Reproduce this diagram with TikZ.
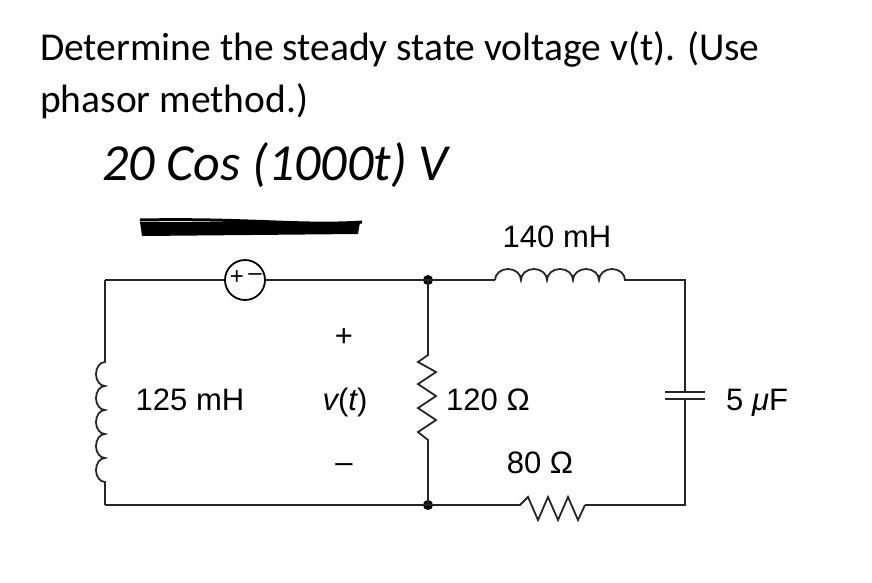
\documentclass[tikz,border=0pt]{standalone}
\usepackage{fontspec}
\setmainfont{Carlito}
\newfontfamily\cfont{Liberation Sans}
\begin{document}
\begin{tikzpicture}[x=1pt,y=-1pt,
  wire/.style={line width=1.8pt,black!85},
  lbl/.style={font=\cfont\fontsize{31}{34}\selectfont,inner sep=0pt},
  dotn/.style={circle,fill=black,inner sep=0pt,minimum size=10pt}]
\useasboundingbox (0,0) rectangle (872,582);
\node[anchor=base west,inner sep=0pt,font=\fontsize{39.5}{42}\selectfont] (t1) at (40,60) {Determine the steady state voltage v(t). (Use};
\node[anchor=base west,inner sep=0pt,font=\fontsize{39.5}{42}\selectfont] (t2) at (40,112) {phasor method.)};
\node[anchor=base west,inner sep=0pt,font=\itshape\fontsize{52}{56}\selectfont] (hw) at (102,180) {20 Cos (1000t) V};
% scribble
\fill[black] (140,222) -- (360,222) -- (358,234) -- (142,236) -- cycle;
\draw[line width=3pt] (140,220) .. controls (250,218) and (300,226) .. (362,222);
% coordinates
\coordinate (tl) at (105,280); \coordinate (bl) at (105,505);
\node[dotn] (nt) at (428,280) {}; \node[dotn] (nb) at (428,505) {};
\coordinate (tr) at (685,280); \coordinate (br) at (685,505);
\node[circle,draw,line width=1.8pt,minimum size=40pt,inner sep=0pt] (src) at (245,280) {};
\node[font=\cfont\fontsize{24}{24}\selectfont,inner sep=0pt] (sp) at (237,278) {+};
\node[font=\cfont\fontsize{24}{24}\selectfont,inner sep=0pt] (sm) at (255,277) {–};
% top wire
\draw[wire] (tl) -- (src.west);
\draw[wire] (src.east) -- (nt.center) -- (495,280);
\draw[wire] (495,280) \foreach \i in {0,...,4} {arc[start angle=180,end angle=360,x radius=13,y radius=11]} -- (tr) -- (685,392);
% capacitor
\draw[wire] (665,392) -- (705,392);
\draw[wire] (665,399) -- (705,399);
\draw[wire] (685,399) -- (br) -- (585,505);
% 80 ohm
\draw[wire] (585,505) -- (578,520) -- (568,497) -- (558,520) -- (548,497) -- (538,520) -- (528,497) -- (520,505) -- (nb.center) -- (bl);
% left inductor
\draw[wire] (bl) -- (105,482) \foreach \i in {0,...,4} {arc[start angle=90,end angle=270,x radius=9,y radius=12]} -- (tl);
% 120 ohm
\draw[wire] (nt.center) -- (428,355) -- (418,362) -- (436,372) -- (418,384) -- (436,396) -- (418,408) -- (436,420) -- (418,432) -- (428,440) -- (nb.center);
% labels
\node[lbl,anchor=base] (l140) at (557,247) {140 mH};
\node[lbl,anchor=base] (l125) at (190,410) {125 mH};
\node[lbl,anchor=base] (lv) at (345,410) {\itshape v\upshape(\itshape t\upshape)};
\node[lbl,anchor=base] (lvp) at (344,346) {+};
\node[lbl,anchor=base] (lvm) at (344,472) {–};
\node[lbl,anchor=base west] (l120) at (446,410) {120 Ω};
\node[lbl,anchor=base] (l80) at (540,473) {80 Ω};
\node[lbl,anchor=base west] (l5) at (726,410) {5 \itshape μ\upshape F};
\end{tikzpicture}
\end{document}
